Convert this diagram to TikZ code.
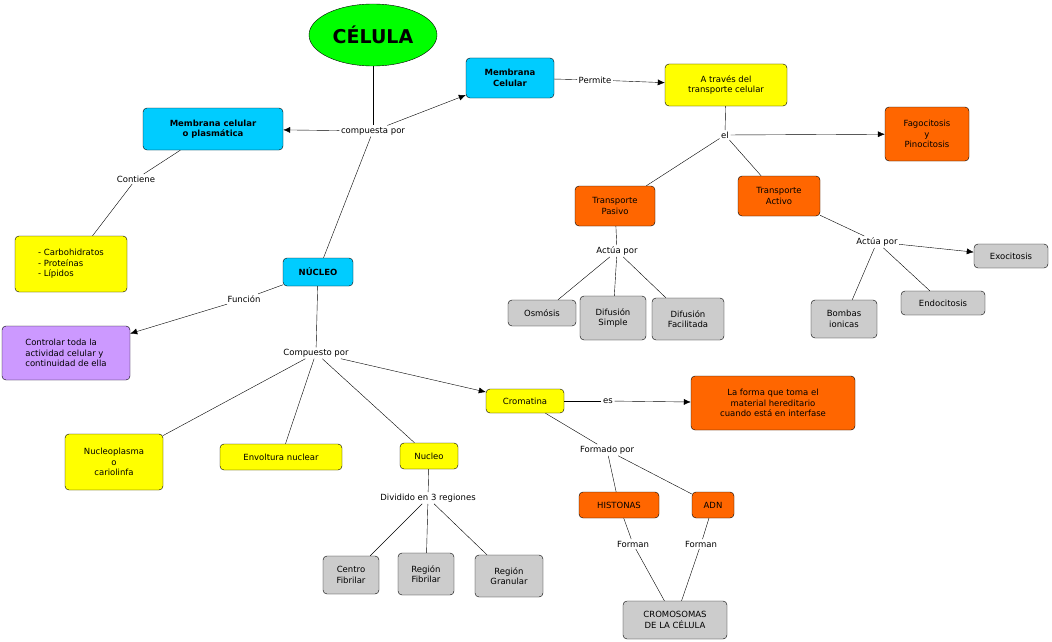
\documentclass[tikz,border=0pt]{standalone}
\usepackage{fontspec}
\setmainfont{DejaVu Sans}
\usetikzlibrary{shapes.geometric,arrows.meta}
\definecolor{cyanbox}{RGB}{0,204,255}
\definecolor{yelbox}{RGB}{255,255,0}
\definecolor{orabox}{RGB}{255,102,0}
\definecolor{grabox}{RGB}{204,204,204}
\definecolor{purbox}{RGB}{204,153,255}
\definecolor{grnbox}{RGB}{0,255,0}
\tikzset{
  box/.style={draw,rounded corners=4pt,align=center,font=\fontsize{8.5}{10.5}\selectfont,inner sep=2pt},
  cy/.style={box,fill=cyanbox,font=\fontsize{8.5}{10.5}\selectfont\bfseries},
  ye/.style={box,fill=yelbox},
  or/.style={box,fill=orabox},
  gr/.style={box,fill=grabox},
  pu/.style={box,fill=purbox},
  lbl/.style={fill=white,inner sep=1.5pt,font=\fontsize{8.5}{10.5}\selectfont},
  arr/.style={-{Latex[length=7pt,width=6pt]}}
}
\begin{document}
\begin{tikzpicture}[x=1pt,y=-1pt]
  \useasboundingbox (0,0) rectangle (1052,642);

  \node[ellipse,draw,fill=grnbox,minimum width=128,minimum height=62,font=\fontsize{19}{22}\selectfont\bfseries] (celula) at (373,35) {CÉLULA};
  \node[lbl] (comp) at (373,131) {compuesta por};
  \node[cy,minimum width=88,minimum height=40] (memc) at (510,78) {Membrana\\Celular};
  \node[lbl] (perm) at (595,80) {Permite};
  \node[ye,minimum width=122,minimum height=42] (trans) at (726,85) {A través del\\transporte celular};
  \node[lbl] (el) at (725,135) {el};
  \node[or,minimum width=84,minimum height=54] (fago) at (927,134) {Fagocitosis\\y\\Pinocitosis};
  \node[or,minimum width=80,minimum height=40] (tpas) at (615,206) {Transporte\\Pasivo};
  \node[or,minimum width=82,minimum height=40] (tact) at (779,196) {Transporte\\Activo};
  \node[lbl] (act1) at (617,251) {Actúa por};
  \node[gr,minimum width=68,minimum height=26] (osm) at (542,313) {Osmósis};
  \node[gr,minimum width=66,minimum height=44] (difs) at (613,318) {Difusión\\Simple};
  \node[gr,minimum width=72,minimum height=42] (diff) at (688,319) {Difusión\\Facilitada};
  \node[lbl] (act2) at (877,242) {Actúa por};
  \node[gr,minimum width=74,minimum height=24] (exo) at (1011,256) {Exocitosis};
  \node[gr,minimum width=66,minimum height=38] (bomb) at (844,319) {Bombas\\ionicas};
  \node[gr,minimum width=84,minimum height=24] (endo) at (943,303) {Endocitosis};

  \node[cy,minimum width=140,minimum height=42] (memp) at (213,129) {Membrana celular\\o plasmática};
  \node[lbl] (cont) at (136,179) {Contiene};
  \node[ye,minimum width=112,minimum height=56,align=left] (carb) at (71,264) {- Carbohidratos\\- Proteínas\\- Lípidos};

  \node[cy,minimum width=70,minimum height=28] (nuc) at (318,272) {NÚCLEO};
  \node[lbl] (func) at (244,299) {Función};
  \node[pu,minimum width=128,minimum height=54,align=left] (ctrl) at (66,353) {Controlar toda la\\actividad celular y\\continuidad de ella};
  \node[lbl] (compu) at (316,353) {Compuesto por};
  \node[ye,minimum width=98,minimum height=56] (nplas) at (114,462) {Nucleoplasma\\o\\cariolinfa};
  \node[ye,minimum width=122,minimum height=26] (envo) at (281,457) {Envoltura nuclear};
  \node[ye,minimum width=58,minimum height=26] (nucl) at (429,456) {Nucleo};
  \node[lbl] (divi) at (428,498) {Dividido en 3 regiones};
  \node[gr,minimum width=56,minimum height=38] (cent) at (351,575) {Centro\\Fibrilar};
  \node[gr,minimum width=56,minimum height=42] (regf) at (426,574) {Región\\Fibrilar};
  \node[gr,minimum width=68,minimum height=42] (regg) at (509,576) {Región\\Granular};

  \node[ye,minimum width=78,minimum height=24] (crom) at (525,401) {Cromatina};
  \node[lbl] (es) at (608,401) {es};
  \node[or,minimum width=164,minimum height=54] (forma) at (773,403) {La forma que toma el\\material hereditario\\cuando está en interfase};
  \node[lbl] (formd) at (607,450) {Formado por};
  \node[or,minimum width=80,minimum height=26] (hist) at (619,505) {HISTONAS};
  \node[or,minimum width=42,minimum height=26] (adn) at (713,505) {ADN};
  \node[lbl] (for1) at (633,544) {Forman};
  \node[lbl] (for2) at (701,544) {Forman};
  \node[gr,minimum width=104,minimum height=38] (cromo) at (675,620) {CROMOSOMAS\\DE LA CÉLULA};

  \draw (celula) -- (comp);
  \draw[arr] (comp) -- (memc);
  \draw[arr] (comp) -- (memp);
  \draw (comp) -- (nuc);
  \draw (memc) -- (perm);
  \draw[arr] (perm) -- (trans);
  \draw (trans) -- (el);
  \draw[arr] (el) -- (fago);
  \foreach \to in {tpas,tact}
    \draw (el) -- (\to);
  \draw (tpas) -- (act1);
  \foreach \to in {osm,difs,diff}
    \draw (act1) -- (\to);
  \draw (tact) -- (act2);
  \draw[arr] (act2) -- (exo);
  \foreach \to in {bomb,endo}
    \draw (act2) -- (\to);
  \draw (memp) -- (cont) -- (carb);
  \draw (nuc) -- (func);
  \draw[arr] (func) -- (ctrl);
  \draw (nuc) -- (compu);
  \foreach \to in {nplas,envo,nucl}
    \draw (compu) -- (\to);
  \draw[arr] (compu) -- (crom);
  \draw (nucl) -- (divi);
  \foreach \to in {cent,regf,regg}
    \draw (divi) -- (\to);
  \draw (crom) -- (es);
  \draw[arr] (es) -- (forma);
  \draw (crom) -- (formd);
  \foreach \to in {hist,adn}
    \draw (formd) -- (\to);
  \draw (hist) -- (for1) -- (cromo);
  \draw (adn) -- (for2) -- (cromo);
\end{tikzpicture}
\end{document}
